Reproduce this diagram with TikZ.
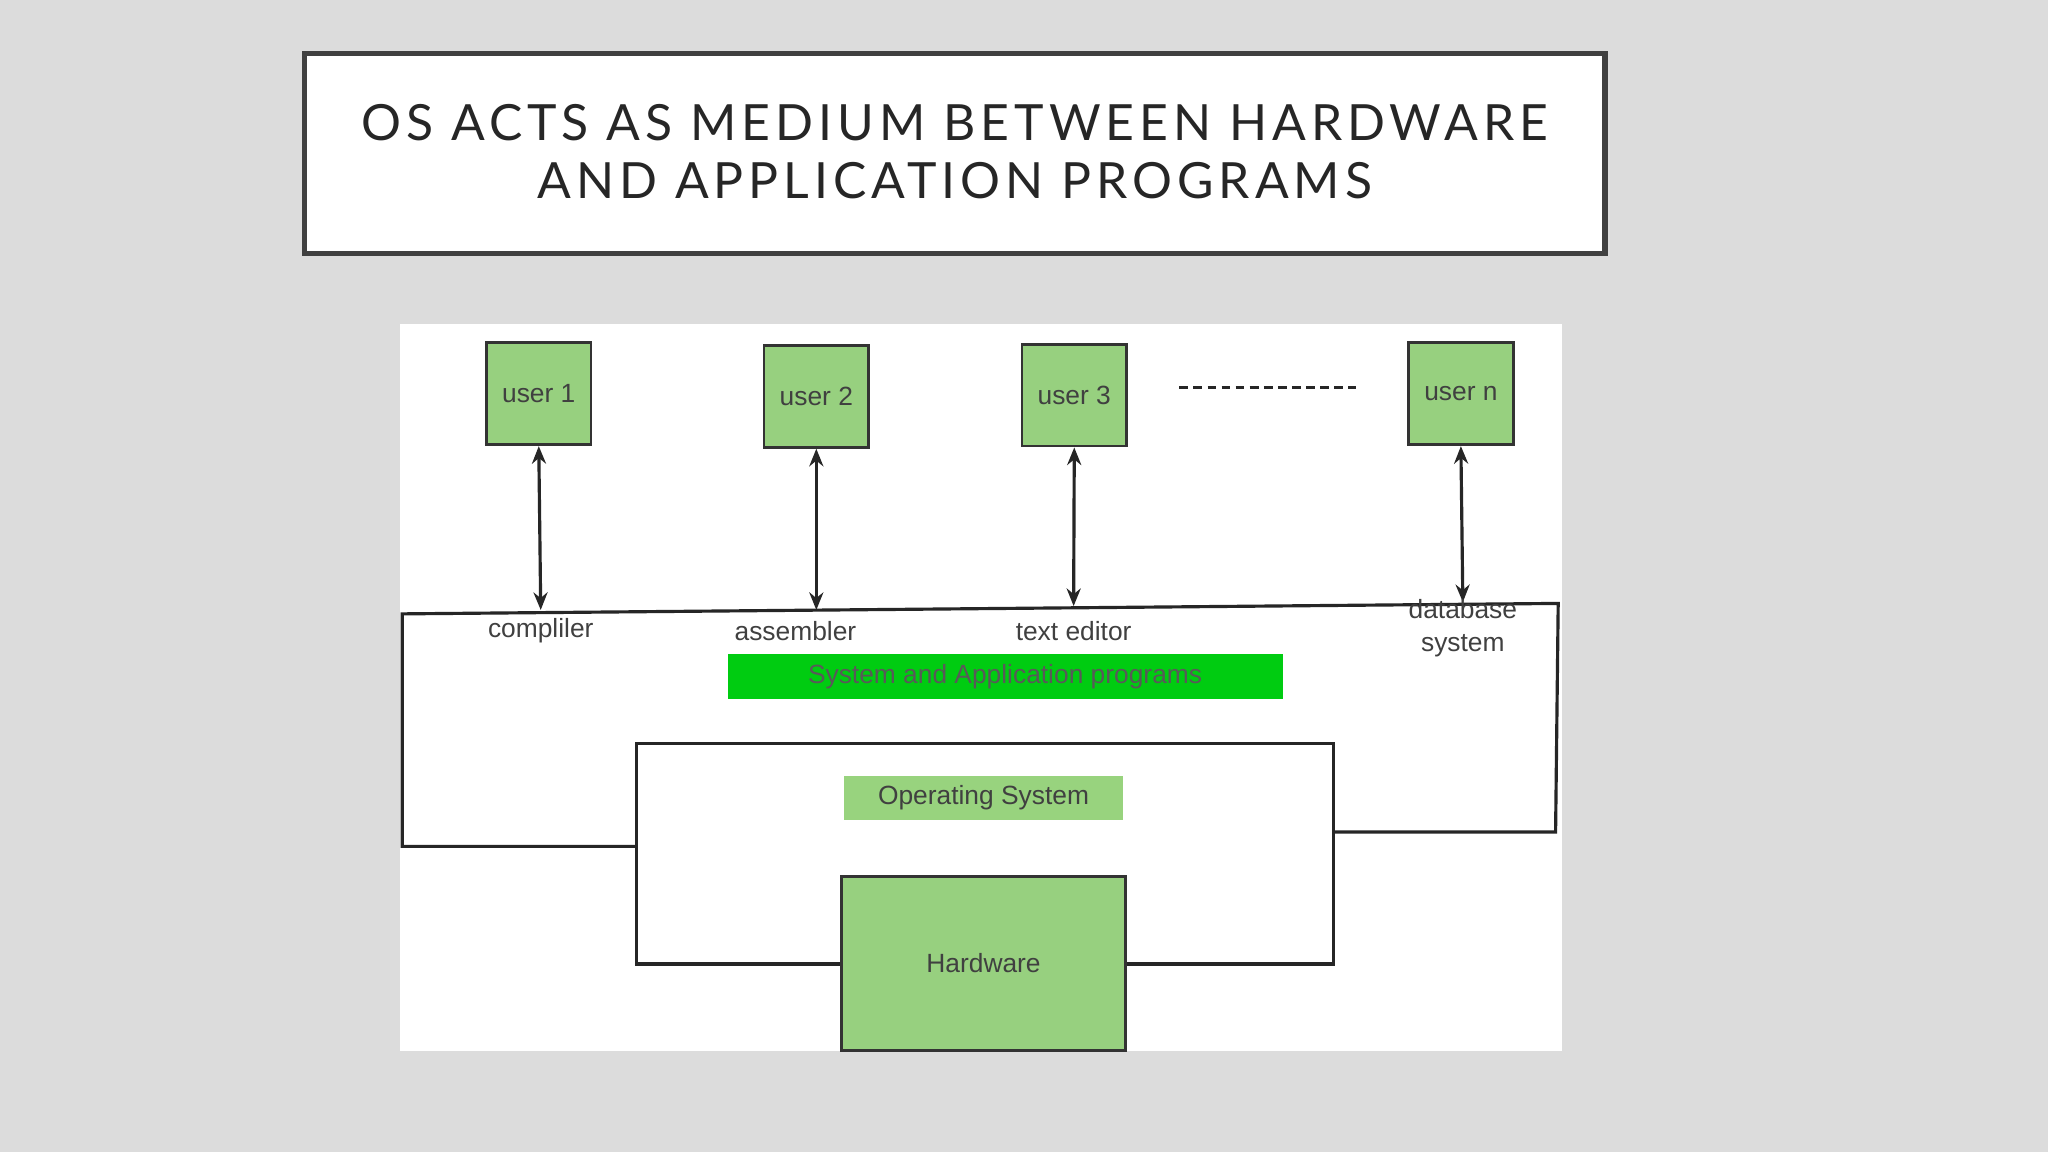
\documentclass[tikz,border=0pt]{standalone}
\usepackage{fontspec}
\setmainfont{Liberation Sans}
\newfontfamily\titlefont[LetterSpace=10]{Lato}
\usetikzlibrary{arrows.meta}
\definecolor{bg}{HTML}{DCDCDC}
\definecolor{lg}{HTML}{97D07F}
\definecolor{bgreen}{HTML}{00CC11}
\definecolor{osg}{HTML}{98D37E}
\begin{document}
\begin{tikzpicture}[x=0.013061cm,y=-0.013061cm,
  ln/.style={line width=0.9pt,black!85},
  usr/.style={draw=black!80,line width=0.8pt,fill=lg,minimum width=80*0.013061cm,minimum height=78*0.013061cm,font=\fontsize{7.5}{9}\selectfont,text=black!75},
  lbl/.style={font=\fontsize{7.5}{9}\selectfont,text=black!75,align=center},
  arr/.style={ln,{Stealth[length=5pt,width=4pt]}-{Stealth[length=5pt,width=4pt]}}]
\useasboundingbox (0,0) rectangle (1568,882);
\fill[bg] (0,0) rectangle (1568,882);
\node[draw=black!75,line width=1.6pt,fill=white,minimum width=996*0.013061cm,minimum height=153*0.013061cm] (title) at (731,117.5) {};
\node[font=\titlefont\fontsize{14.2}{16.3}\selectfont,text=black!85,align=center] (tt) at (731,116) {OS ACTS AS MEDIUM BETWEEN HARDWARE\\AND APPLICATION PROGRAMS};
\fill[white] (306,248) rectangle (1196,805);
\node[usr] (u1) at (412.5,301.5) {user 1};
\node[usr] (u2) at (625,303.5) {user 2};
\node[usr] (u3) at (822.5,302.5) {user 3};
\node[usr] (un) at (1118.5,301.5) {user n};
\draw[ln,dash pattern=on 2.5pt off 1.5pt] (903,297) -- (1038,297);
\coordinate (c1) at (414,467);
\coordinate (c2) at (625,467);
\coordinate (c3) at (822,464);
\coordinate (cn) at (1120,461);
\draw[arr] (u1.south) -- (c1);
\draw[arr] (u2.south) -- (c2);
\draw[arr] (u3.south) -- (c3);
\draw[arr] (un.south) -- (cn);
\draw[ln] (487,648) -- (308,648) -- (308,470) -- (1193,462) -- (1191,637) -- (1021,637);
\draw[ln] (644,738) -- (487,738) -- (487,569) -- (1021,569) -- (1021,738) -- (862,738);
\node[draw=black!80,line width=0.9pt,fill=lg,minimum width=218*0.013061cm,minimum height=133*0.013061cm,font=\fontsize{7.5}{9}\selectfont,text=black!75] (hw) at (753,737.5) {Hardware};
\node[fill=osg,minimum width=214*0.013061cm,minimum height=34*0.013061cm,inner sep=0pt,font=\fontsize{7.5}{9}\selectfont,text=black!75] (os) at (753,611) {Operating System};
\node[fill=bgreen,minimum width=425*0.013061cm,minimum height=34*0.013061cm,inner sep=0pt,font=\fontsize{7.5}{9}\selectfont,text=black!65] (sap) at (769.5,518) {System and Application programs};
\node[lbl] (l1) at (414,483) {compliler};
\node[lbl] (l2) at (609,483) {assembler};
\node[lbl] (l3) at (822,483) {text editor};
\node[lbl,font=\fontsize{7.5}{9.5}\selectfont] (l4) at (1120,481) {database\\system};
\end{tikzpicture}
\end{document}
